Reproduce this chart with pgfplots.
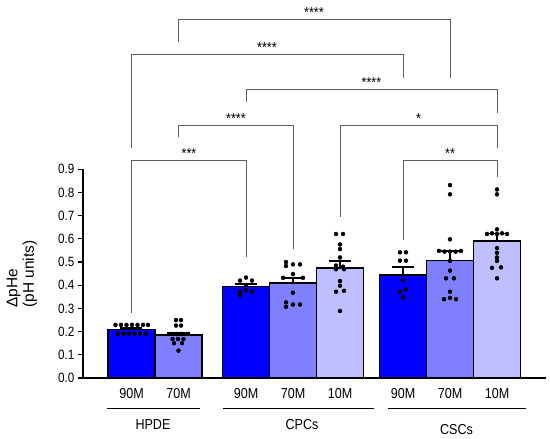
\documentclass[border=0pt]{standalone}
\usepackage{fontspec}
\setmainfont{Liberation Sans}[FakeStretch=0.87]
\newfontfamily\ylabfont{Liberation Sans}
\usepackage{pgfplots}
\pgfplotsset{compat=1.18}
\definecolor{c90}{RGB}{0,0,255}
\definecolor{c70}{RGB}{128,128,255}
\definecolor{c10}{RGB}{191,191,255}
\definecolor{brkgray}{RGB}{95,95,95}

\begin{document}
\begin{tikzpicture}[lab/.style={font=\fontsize{14.5}{17}\selectfont}]
\begin{axis}[
    scale only axis,
    width=463bp, height=208.7bp,
    xmin=83, xmax=546, ymin=0, ymax=0.9,
    clip=false,
    axis x line=bottom, axis y line=left,
    axis line style={-, line width=1.2bp},
    xtick=\empty,
    ytick={0,0.1,0.2,0.3,0.4,0.5,0.6,0.7,0.8,0.9},
    tick align=outside, major tick length=5bp,
    tick style={black, line width=1.2bp},
    /pgf/number format/fixed, /pgf/number format/fixed zerofill,
    /pgf/number format/precision=1, /pgf/number format/assume math mode=true,
    tick label style={font=\fontsize{13.5}{15}\selectfont},
    bar width=47,
]
\coordinate (O) at (axis cs:83,0);

% bars with SEM (upper only)
\pgfplotsset{bars/.style={ybar, bar shift=0pt, draw=black, line width=1.5bp,
    error bars/y dir=plus, error bars/y explicit,
    error bars/error mark=|,
    error bars/error bar style={black, line width=1.5bp},
    error bars/error mark options={black, line width=1.5bp, mark size=11bp}}}
\addplot[bars, fill=c90] coordinates {
    (131.5,0.210) +- (0,0.005)
    (246,0.394) +- (0,0.011)
    (403,0.445) +- (0,0.033)
};
\addplot[bars, fill=c70] coordinates {
    (178.5,0.185) +- (0,0.010)
    (293,0.409) +- (0,0.023)
    (450,0.507) +- (0,0.040)
};
\addplot[bars, fill=c10] coordinates {
    (340,0.474) +- (0,0.030)
    (497,0.590) +- (0,0.034)
};

% individual points
\pgfplotsset{pts/.style={only marks, mark=*, mark size=2bp, black}}
\addplot[pts] coordinates { % HPDE 90M
    (115.5,0.229) (121,0.229) (126.5,0.229) (132,0.229) (137.5,0.229) (143,0.229) (148,0.229)
    (118,0.191) (123.5,0.191) (129,0.191) (134.5,0.191) (140,0.191) (145.5,0.191)
};
\addplot[pts] coordinates { % HPDE 70M
    (176,0.250) (181,0.250) (176,0.226) (181,0.226)
    (171,0.190) (176.5,0.190) (181.5,0.190) (187,0.190)
    (172.5,0.168) (178,0.168) (183.5,0.168)
    (174,0.150) (182,0.150) (178.5,0.118)
};
\addplot[pts] coordinates { % CPCs 90M
    (240,0.420) (246,0.433) (252,0.420) (246,0.400)
    (240,0.372) (246,0.378) (252,0.372) (240,0.358)
};
\addplot[pts] coordinates { % CPCs 70M
    (286,0.500) (286,0.483) (293,0.490) (300,0.490)
    (283,0.432) (293,0.448) (303,0.432) (293,0.368)
    (286,0.326) (286,0.307) (293,0.317) (300,0.317)
};
\addplot[pts] coordinates { % CPCs 10M
    (336,0.621) (343,0.621) (340,0.576) (340,0.556) (340,0.520)
    (336,0.485) (343,0.480) (336,0.469) (344,0.469)
    (340,0.418) (340,0.398) (336,0.372) (344,0.376) (340,0.289)
};
\addplot[pts] coordinates { % CSCs 90M
    (400,0.542) (406,0.542) (400,0.506) (406,0.506)
    (403,0.423) (400,0.372) (406,0.382) (403,0.348)
};
\addplot[pts] coordinates { % CSCs 70M
    (450,0.832) (450,0.792) (450,0.598)
    (439,0.548) (444.5,0.545) (450,0.545) (455.5,0.545) (461,0.548)
    (450,0.505) (450,0.463) (446,0.430) (454,0.430)
    (450,0.372) (444,0.340) (450,0.345) (456,0.340)
};
\addplot[pts] coordinates { % CSCs 10M
    (497,0.813) (497,0.792) (497,0.641)
    (487,0.621) (492,0.624) (497,0.621) (502,0.624) (507,0.621)
    (497,0.560) (497,0.540) (497,0.520) (497,0.505)
    (492,0.475) (501,0.477) (497,0.430)
};

% significance brackets
\pgfplotsset{bracket/.style={brkgray, line width=1bp, mark=none}}
\addplot[bracket] coordinates {(178.5,1.448) (178.5,1.544) (450,1.544) (450,1.295)};
\addplot[bracket] coordinates {(131.5,0.993) (131.5,1.393) (403,1.393) (403,1.295)};
\addplot[bracket] coordinates {(246,1.189) (246,1.242) (497,1.242) (497,1.144)};
\addplot[bracket] coordinates {(178.5,1.038) (178.5,1.088) (293,1.088) (293,0.555)};
\addplot[bracket] coordinates {(131.5,0.279) (131.5,0.937) (246,0.937) (246,0.523)};
\addplot[bracket] coordinates {(340,0.696) (340,1.088) (497,1.088) (497,0.993)};
\addplot[bracket] coordinates {(403,0.595) (403,0.937) (497,0.937) (497,0.868)};
\node[lab, anchor=base, yshift=2.5bp] at (axis cs:314,1.544) {****};
\node[lab, anchor=base, yshift=2.5bp] at (axis cs:267,1.393) {****};
\node[lab, anchor=base, yshift=2.5bp] at (axis cs:371.5,1.242) {****};
\node[lab, anchor=base, yshift=2.5bp] at (axis cs:236,1.088) {****};
\node[lab, anchor=base, yshift=2.5bp] at (axis cs:189,0.937) {***};
\node[lab, anchor=base, yshift=2.5bp] at (axis cs:418.5,1.088) {*};
\node[lab, anchor=base, yshift=2.5bp] at (axis cs:450,0.937) {**};

% category labels
\foreach \x/\t in {131.5/90M, 178.5/70M, 246/90M, 293/70M, 340/10M, 403/90M, 450/70M, 497/10M}
    {\edef\tmp{\noexpand\node[lab, anchor=base, yshift=-20.3bp] at (axis cs:\x,0) {\t};}\tmp}
\draw[line width=1.2bp] ([yshift=-30.3bp]axis cs:106.7,0) -- ([yshift=-30.3bp]axis cs:200,0);
\draw[line width=1.2bp] ([yshift=-30.3bp]axis cs:223.3,0) -- ([yshift=-30.3bp]axis cs:374.3,0);
\draw[line width=1.2bp] ([yshift=-30.3bp]axis cs:388.3,0) -- ([yshift=-30.3bp]axis cs:526,0);
\node[lab, anchor=base, yshift=-51.3bp] at (axis cs:153,0) {HPDE};
\node[lab, anchor=base, yshift=-51.3bp] at (axis cs:302,0) {CPCs};
\node[lab, anchor=base, yshift=-56bp] at (axis cs:456.5,0) {CSCs};

% y label
\node[rotate=90, align=left, yshift=61bp, font=\ylabfont\fontsize{15.5}{16.5}\selectfont]
    at (axis cs:83,0.448) {ΔpHe\\(pH units)};
\end{axis}
\path (O) ++(-83bp,-61bp) rectangle ++(550bp,439bp);
\end{tikzpicture}
\end{document}
